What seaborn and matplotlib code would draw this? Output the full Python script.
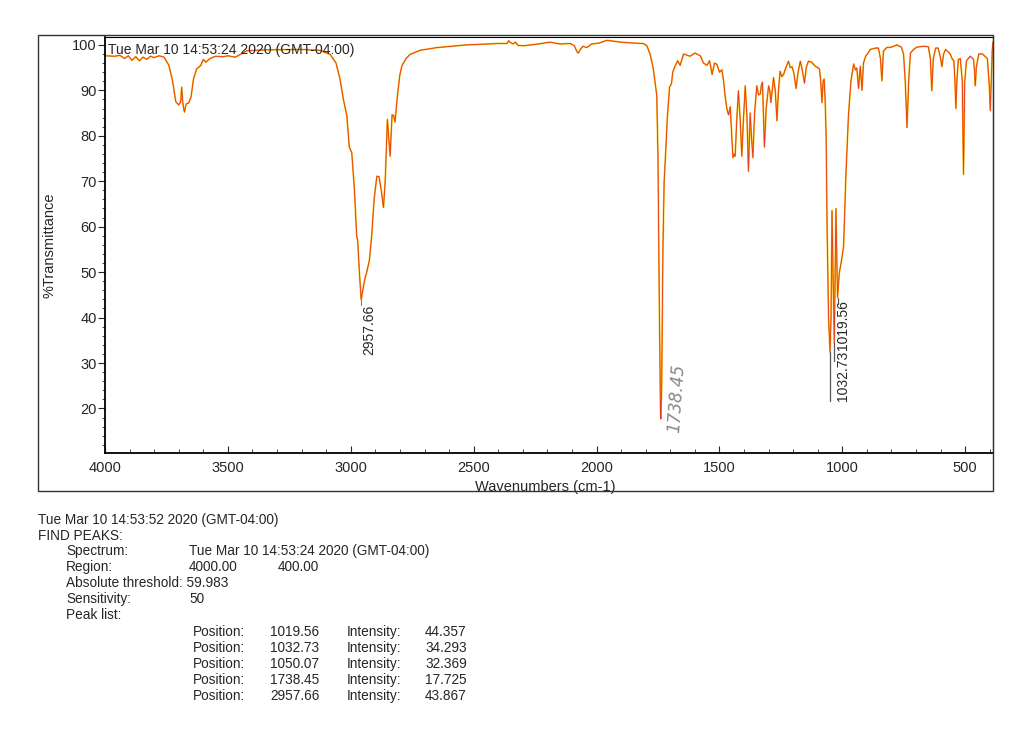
import matplotlib
matplotlib.use("Agg")
import matplotlib.pyplot as plt
import seaborn as sns
import pandas as pd
from matplotlib.ticker import MultipleLocator
from matplotlib.patches import Rectangle

sns.set_style("white")
plt.rcParams['font.family'] = ['Liberation Sans', 'DejaVu Sans']

wavenumber = [4000,3960,3940,3920,3905,3890,3875,3860,3845,3830,3815,3800,3780,3760,3740,3725,3712,3700,3692,3688,3683,3677,3670,3660,3650,3640,3627,3610,3600,3590,3573,3550,3520,3500,3470,3450,3423,3350,3200,3125,3084,3060,3044,3030,3016,3006,2996,2985,2976,2972,2965,2957.66,2948,2942,2935,2924,2915,2905,2894,2885,2876,2867,2860,2851,2846,2840,2836,2832,2826,2820,2810,2800,2792,2775,2759,2718,2650,2528,2400,2365,2358,2350,2340,2330,2320,2300,2250,2189,2150,2107,2090,2080,2074,2066,2055,2040,2020,1990,1958,1900,1850,1810,1795,1782,1770,1760,1755,1750,1745,1740,1738.45,1735,1730,1725,1721,1712,1703,1695,1690,1680,1670,1660,1646,1620,1600,1578,1565,1551,1540,1530,1520,1510,1500,1490,1483,1477,1470,1463,1456,1450,1445,1440,1436,1430,1423,1416,1409,1402,1395,1388,1382,1375,1370,1364,1357,1348,1341,1334,1330,1325,1317,1310,1300,1295,1291,1285,1280,1273,1266,1260,1253,1246,1239,1230,1219,1212,1205,1198,1188,1180,1171,1165,1154,1147,1138,1125,1110,1100,1093,1088,1083,1078,1074,1070,1066,1062,1056,1050.07,1046,1042,1038,1032.73,1029,1026,1023,1019.56,1012,1005,995,985,975,965,954,947,941,934,927,920,914,905,886,865,853,845,839,833,820,800,778,760,751,744,737,730,723,710,697,670,650,642,636,630,620,610,600,595,588,580,570,561,552,546,542,538,534,528,520,512,507,502,495,480,466,462,459,455,445,430,420,410,402,398,394,390,387]
transmittance = [97.6,97.5,97.7,97.0,97.6,96.6,97.4,96.5,97.3,96.8,97.5,97.2,97.6,97.3,95.5,92,87.5,86.8,87.5,90.7,87,85.2,87,87.2,88.5,92.5,94.7,95.5,96.8,96.2,97,97.5,97.4,97.6,97.3,97.9,98.7,98.9,99.0,98.8,97.9,96,92.5,88,84.4,77.5,76.3,68,57.9,57,50,43.9,47,48.7,50,52.7,58,66,71.1,71,68,64.2,70,83.6,80,75.5,80,84.6,84.5,83,89,93.5,95.4,97,97.9,98.8,99.4,100,100.3,100.3,100.9,100.5,100.2,100.6,99.9,99.8,100.1,100.6,100.2,100.3,99.8,98.5,98.2,99.0,99.7,99.4,100.2,100.4,101,100.6,100.4,100.3,99.8,97.9,95,91,88.8,75,45,20,17.7,25,55,70,74,84,90.7,91.5,94,95.4,96.5,95.5,98,97.5,98.2,97.6,96,95.5,96.5,93.5,96,95.7,94,94.5,92,88.8,86,84.6,86.4,80,75.2,76,75.5,83,89.9,84,75.5,84,91,84,72.2,85,80,75.2,85,91,89,89.2,91,91.8,77.5,86,91,90,87.3,90,92.8,90,83.3,90,94.2,93,93.5,95,96.4,95,95.2,94,90.4,94,96.4,95,91.6,95,96.4,96.2,95.3,95,94.7,92,87.3,92,92.5,88,80,60,40,32.4,40,63.5,50,34.3,50,64,55,44.4,50,52,55.6,72,84.6,92,95.8,94.5,94.9,90.4,95.3,90,96,97.5,99,99.3,99.3,97,92.1,98.6,99.4,99.5,100,99.5,98,92,81.8,92,98.2,99,99.5,99.7,99.6,97,89.9,97,99.3,99.3,97,95.2,98,99,98.5,98,96.8,96.5,92,86,92,96.8,97.0,92,71.5,92,96.5,97.5,96.8,94,91,95,98,98,97.5,97,91,85.5,92,99,100.6]

x_ticks = [4000, 3500, 3000, 2500, 2000, 1500, 1000, 500]
y_ticks = [20, 30, 40, 50, 60, 70, 80, 90, 100]

peak_pos = ["1019.56", "1032.73", "1050.07", "1738.45", "2957.66"]
peak_int = ["44.357", "34.293", "32.369", "17.725", "43.867"]

df = pd.DataFrame({"wn": wavenumber, "T": transmittance})

fig = plt.figure(figsize=(10.24, 7.4), dpi=100)
ax = fig.add_axes([105/1024, 1-453/740, (993-105)/1024, (453-36.7)/740])
sns.lineplot(data=df, x="wn", y="T", ax=ax, sort=False, color="#f5b400", lw=1.2)
sns.lineplot(data=df, x="wn", y="T", ax=ax, sort=False, color="#e63a1e", lw=0.6)
ax.set_xlim(4000, 387)
ax.set_ylim(10.2, 101.8)
ax.set_xticks(x_ticks)
ax.set_yticks(y_ticks)
ax.xaxis.set_minor_locator(MultipleLocator(100))
ax.yaxis.set_minor_locator(MultipleLocator(2))
ax.tick_params(axis='x', which='both', direction='in', bottom=True, labelsize=10.5, pad=6)
ax.tick_params(axis='x', which='major', length=5)
ax.tick_params(axis='x', which='minor', length=3)
ax.tick_params(axis='y', which='both', direction='out', left=True, labelsize=10.5, pad=1)
ax.tick_params(axis='y', which='major', length=5)
ax.tick_params(axis='y', which='minor', length=2.5)
ax.set_xlabel("Wavenumbers (cm-1)", fontsize=10.5)
ax.set_ylabel("%Transmittance", fontsize=10.5)
ax.xaxis.set_label_coords((545-105)/888, -0.065)
ax.yaxis.set_label_coords((56-105)/888, 0.5)
for s in ['left', 'bottom']:
    ax.spines[s].set_linewidth(1.3)
for s in ['top', 'right']:
    ax.spines[s].set_linewidth(0.8)
for s in ax.spines.values():
    s.set_color('black')

ax.text(0.003, 0.985, "Tue Mar 10 14:53:24 2020 (GMT-04:00)", transform=ax.transAxes,
        fontsize=10, va='top', ha='left')

# peak labels
def ylab(p):
    return 100 - (p - 46) / 4.54
ax.plot([2957.66, 2957.66], [43.9, 42.8], color='gray', lw=0.8)
ax.annotate("2957.66", (2957.66, 42.8), xytext=(6, 0), textcoords='offset points',
            rotation=90, ha='center', va='top', fontsize=10)
ax.plot([1050.07, 1050.07], [32.4, ylab(402)], color='#555', lw=0.9)
ax.plot([1032.73, 1032.73], [34.3, 30.5], color='#555', lw=0.9)
ax.plot([1019.56, 1019.56], [44.4, 43.0], color='#555', lw=0.9)
ax.annotate("1032.73", (1050.07, ylab(402)), xytext=(9, 0), textcoords='offset points',
            rotation=90, ha='center', va='bottom', fontsize=10)
ax.annotate("1019.56", (1050.07, ylab(351)), xytext=(9, 0), textcoords='offset points',
            rotation=90, ha='center', va='bottom', fontsize=10)
ax.annotate("1738.45", (1738.45, ylab(434)), xytext=(11, 0), textcoords='offset points',
            rotation=86, ha='center', va='bottom', fontsize=12, color='#888',
            style='italic', family='DejaVu Sans', fontweight='light')

# outer frame
fig.patches.append(Rectangle((38/1024, 1-491/740), (993-38)/1024, (491-35)/740,
                             transform=fig.transFigure, fill=False, ec='#333', lw=1.0))

fs = 9.8
def ft(x, y, s):
    fig.text(x/1024, 1-y/740, s, fontsize=fs, va='center', ha='left')

ft(38, 520, "Tue Mar 10 14:53:52 2020 (GMT-04:00)")
ft(38, 536, "FIND PEAKS:")
ft(66, 551, "Spectrum:")
ft(189, 551, "Tue Mar 10 14:53:24 2020 (GMT-04:00)")
ft(66, 567, "Region:")
ft(189, 567, "4000.00")
ft(278, 567, "400.00")
ft(66, 583, "Absolute threshold: 59.983")
ft(66, 599, "Sensitivity:")
ft(189, 599, "50")
ft(66, 615, "Peak list:")
for i, (p, it) in enumerate(zip(peak_pos, peak_int)):
    yy = 632 + 16 * i
    ft(193, yy, "Position:")
    ft(270, yy, p)
    ft(347, yy, "Intensity:")
    ft(425, yy, it)

fig.savefig("out.png", dpi=100)
